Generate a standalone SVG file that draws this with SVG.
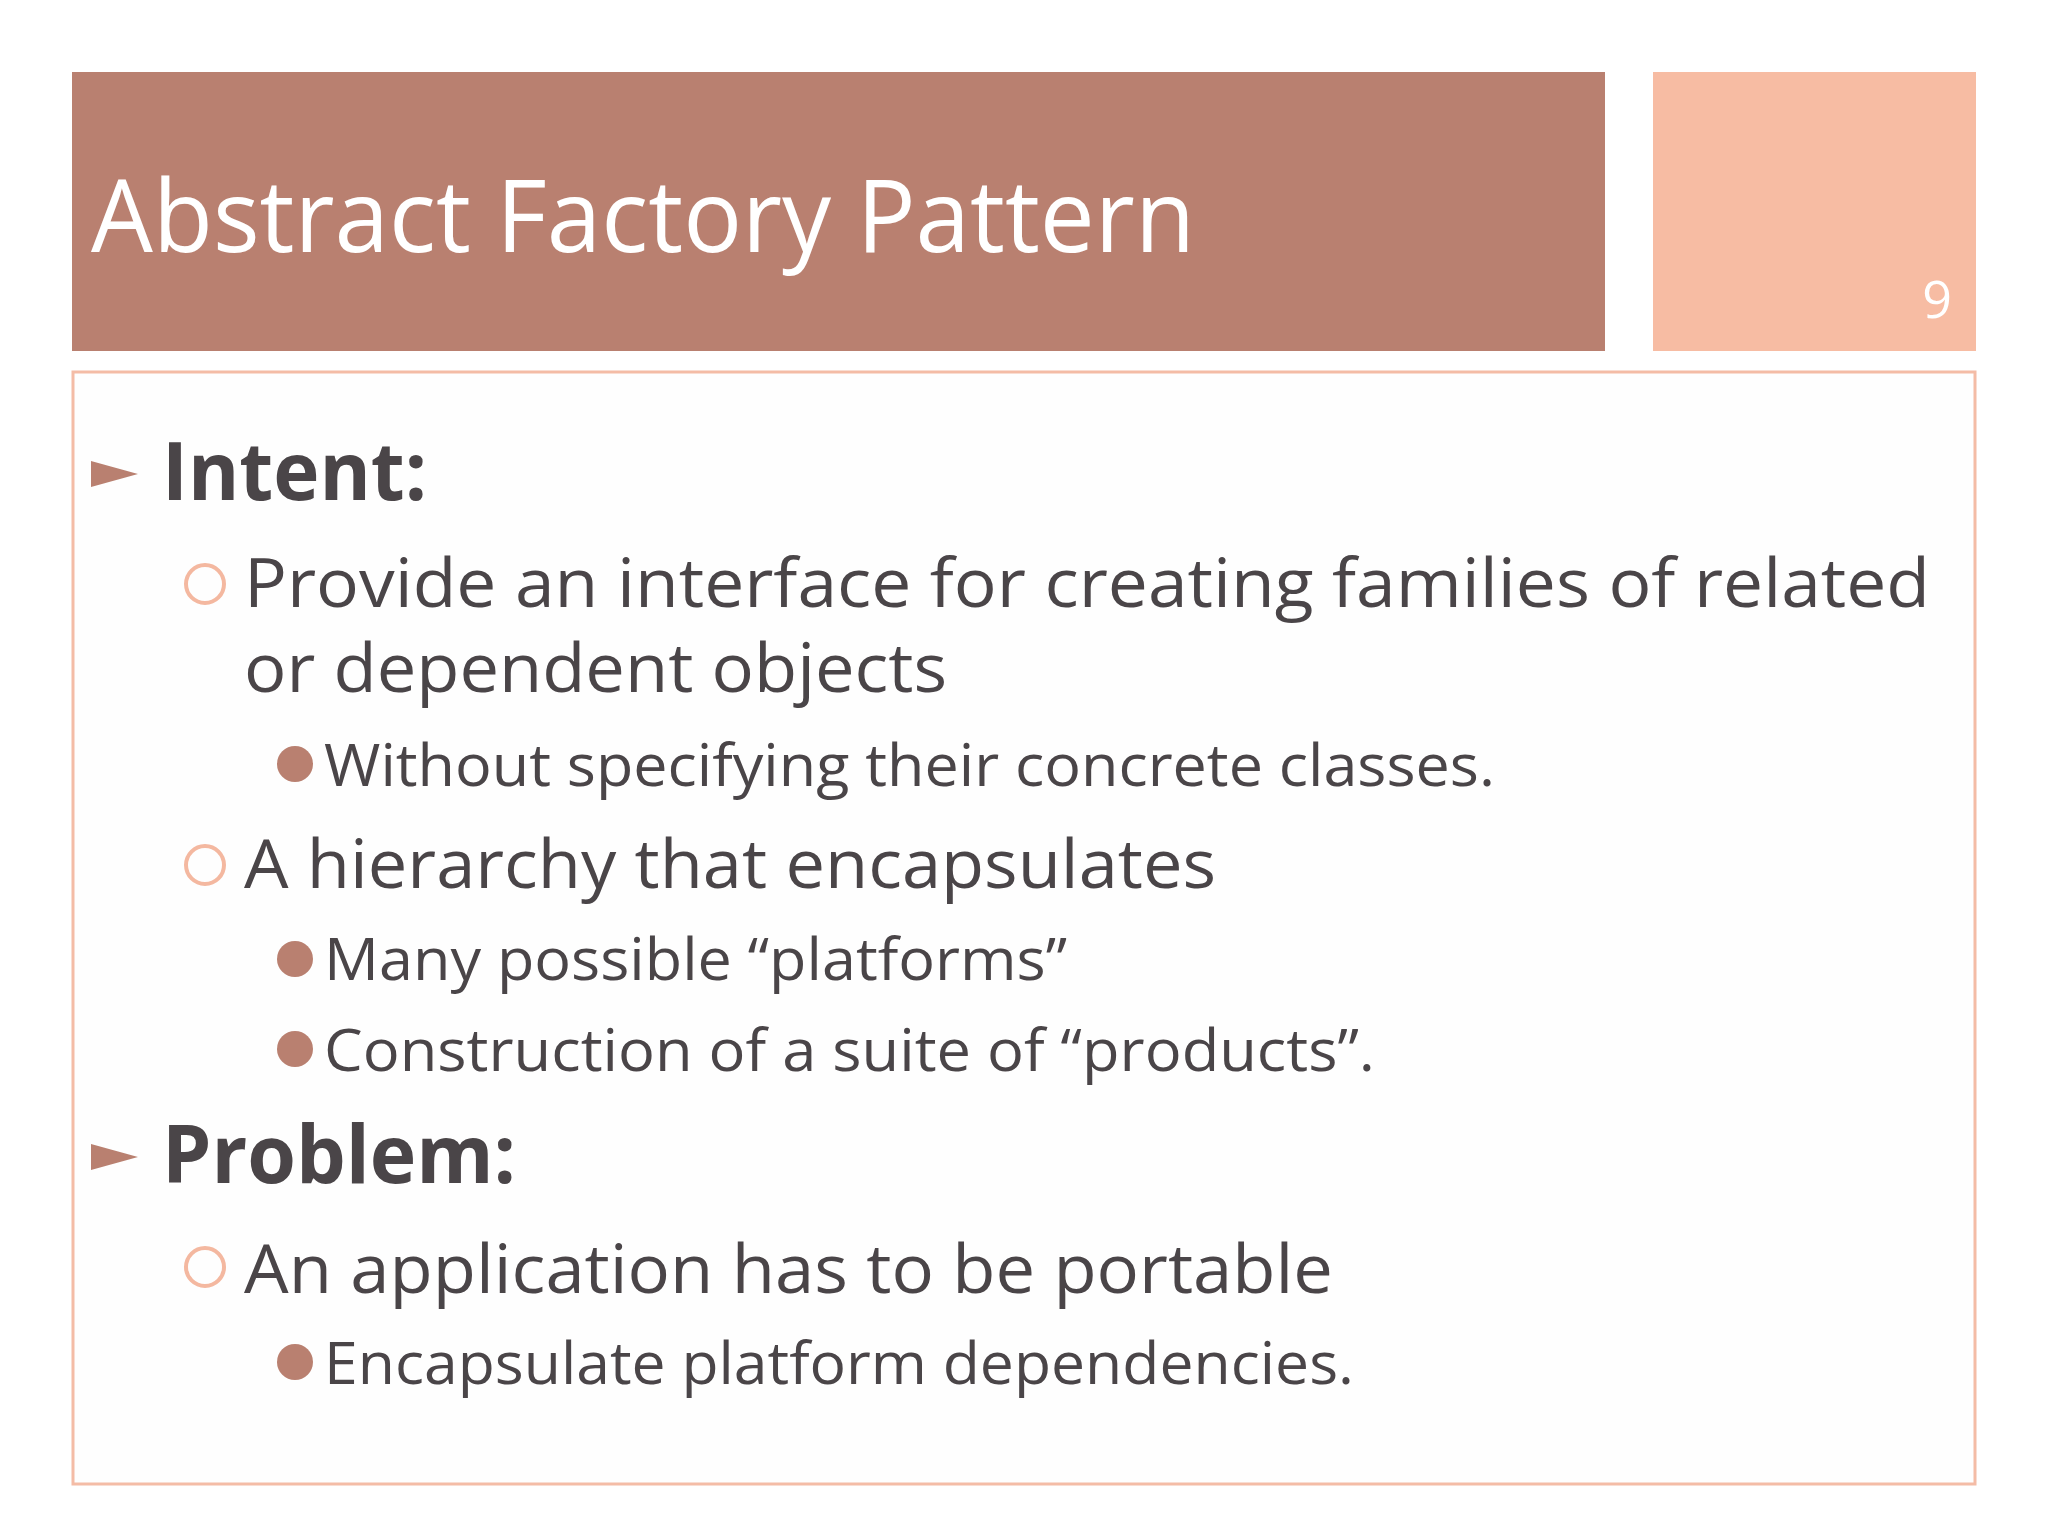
<svg xmlns="http://www.w3.org/2000/svg" width="2048" height="1535" viewBox="0 0 2048 1535">
<style>
.t{font-family:"Open Sans","Liberation Sans",sans-serif;fill:#4a4548}
.l1{font-size:68px}
.l2{font-size:58px}
.h{font-size:80px;font-weight:bold}
.hc{fill:none;stroke:#f4b8a0;stroke-width:4}
.fb{fill:#b98070}
</style>
<rect width="2048" height="1535" fill="#ffffff"/>
<g id="title"><rect x="72" y="72" width="1533" height="279" fill="#b98070"/>
<text x="91" y="252" font-family="Open Sans,Liberation Sans,sans-serif" font-size="100" fill="#ffffff" textLength="1104" lengthAdjust="spacingAndGlyphs">Abstract Factory Pattern</text></g>
<g id="pagebox"><rect x="1653" y="72" width="323" height="279" fill="#f7bca3"/>
<text x="1952" y="318" text-anchor="end" font-family="Open Sans,Liberation Sans,sans-serif" font-size="52" fill="#ffffff">9</text></g>
<g id="content"><rect x="73" y="372" width="1902" height="1112" fill="#fefefe" stroke="#f4bca6" stroke-width="3"/>
<polygon points="91,461 138,474 91,487" class="fb"/>
<text class="t h" x="162" y="500" textLength="265" lengthAdjust="spacingAndGlyphs">Intent:</text>
<circle cx="205" cy="584" r="19" class="hc"/>
<text class="t l1" x="244" y="607" textLength="1686" lengthAdjust="spacingAndGlyphs">Provide an interface for creating families of related</text>
<text class="t l1" x="244" y="692" textLength="703" lengthAdjust="spacingAndGlyphs">or dependent objects</text>
<circle cx="295" cy="764" r="18" class="fb"/>
<text class="t l2" x="324" y="786" textLength="1171" lengthAdjust="spacingAndGlyphs">Without specifying their concrete classes.</text>
<circle cx="205" cy="865" r="19" class="hc"/>
<text class="t l1" x="244" y="888" textLength="972" lengthAdjust="spacingAndGlyphs">A hierarchy that encapsulates</text>
<circle cx="295" cy="959" r="18" class="fb"/>
<text class="t l2" x="324" y="980" textLength="743" lengthAdjust="spacingAndGlyphs">Many possible “platforms”</text>
<circle cx="295" cy="1049" r="18" class="fb"/>
<text class="t l2" x="324" y="1071" textLength="1051" lengthAdjust="spacingAndGlyphs">Construction of a suite of “products”.</text>
<polygon points="91,1144 138,1157 91,1170" class="fb"/>
<text class="t h" x="162" y="1183" textLength="354" lengthAdjust="spacingAndGlyphs">Problem:</text>
<circle cx="205" cy="1267" r="19" class="hc"/>
<text class="t l1" x="244" y="1293" textLength="1089" lengthAdjust="spacingAndGlyphs">An application has to be portable</text>
<circle cx="295" cy="1362" r="18" class="fb"/>
<text class="t l2" x="324" y="1384" textLength="1030" lengthAdjust="spacingAndGlyphs">Encapsulate platform dependencies.</text>
</g>
</svg>
